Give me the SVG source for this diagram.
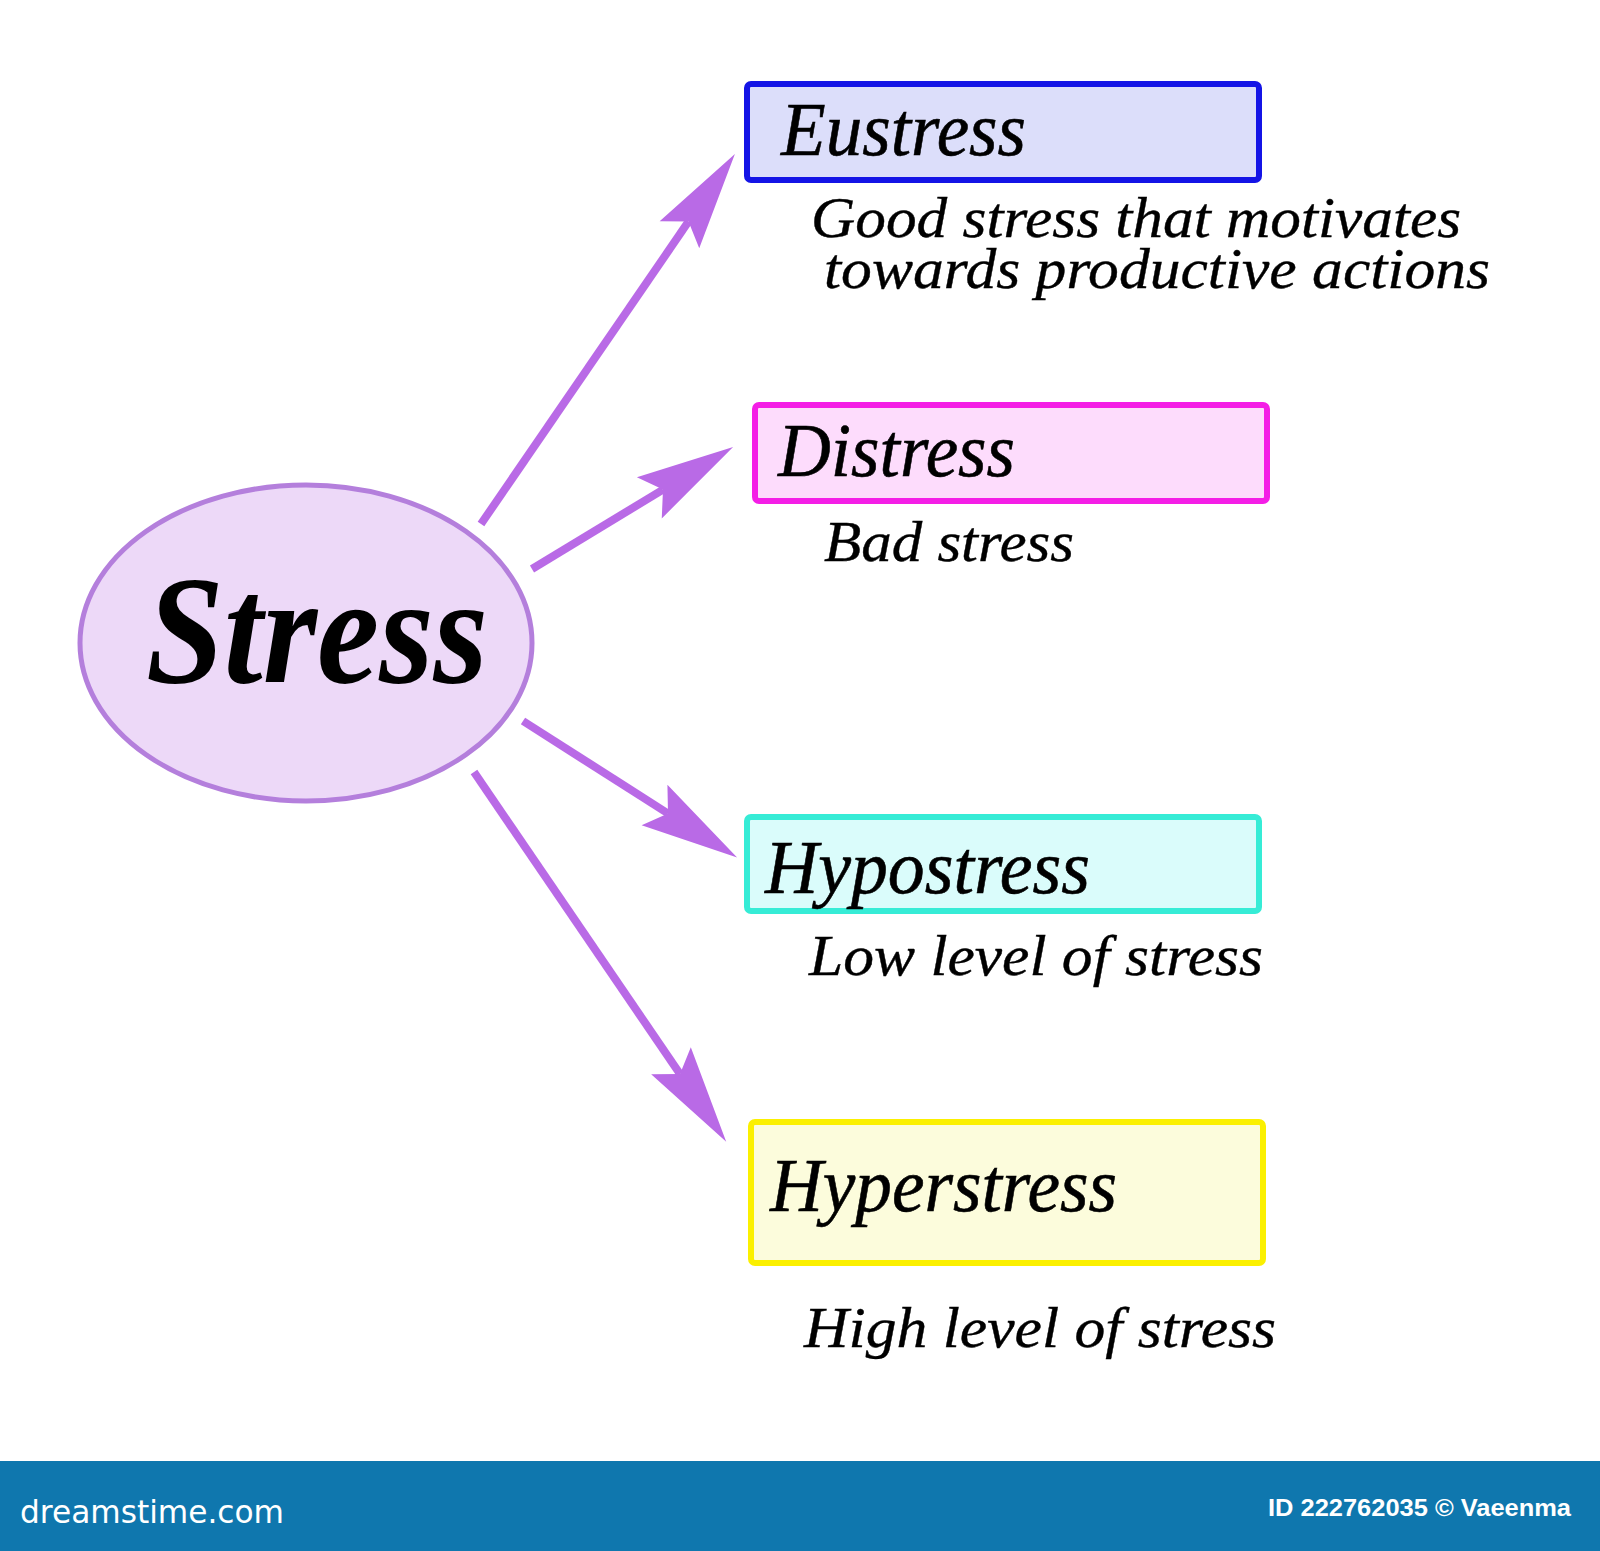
<svg xmlns="http://www.w3.org/2000/svg" width="1600" height="1551" viewBox="0 0 1600 1551">
<style>
.box{stroke-width:6}
.title{font-family:"Liberation Serif","Times New Roman",serif;font-style:italic;font-size:77px;fill:#000;stroke:#000;stroke-width:0.6}
.sub{font-family:"Liberation Serif","Times New Roman",serif;font-style:italic;font-size:58px;fill:#000;stroke:#000;stroke-width:0.4}
.conn{stroke:#b96ae6;stroke-width:8;fill:none;marker-end:url(#head)}
</style>
<defs>
<marker id="head" markerUnits="userSpaceOnUse" markerWidth="120" markerHeight="60" viewBox="-20 -30 120 60" refX="0" refY="0" orient="auto">
<path d="M82,0 L-16,-24 L0,0 L-16,24 Z" fill="#b96ae6"/>
</marker>
</defs>
<rect width="1600" height="1551" fill="#ffffff"/>
<g id="connectors">
<line class="conn" x1="481" y1="524" x2="688.5" y2="221.6"/>
<line class="conn" x1="532" y1="569" x2="663" y2="489.6"/>
<line class="conn" x1="523" y1="721" x2="668" y2="813.5"/>
<line class="conn" x1="474" y1="772" x2="680" y2="1074"/>
</g>
<g id="stress">
<ellipse cx="306" cy="643" rx="226" ry="158" fill="#edd9f8" stroke="#b47fdc" stroke-width="5"/>
<text x="146" y="682" font-family="'Liberation Serif','Times New Roman',serif" font-style="italic" font-weight="bold" font-size="155" textLength="342" lengthAdjust="spacingAndGlyphs">Stress</text>
</g>
<g id="eustress">
<rect class="box" x="747" y="84" width="512" height="96" rx="4" fill="#dcdefa" stroke="#1414e6"/>
<text class="title" x="781" y="155" textLength="245" lengthAdjust="spacingAndGlyphs">Eustress</text>
<text class="sub" x="811" y="237" textLength="650" lengthAdjust="spacingAndGlyphs">Good stress that motivates</text>
<text class="sub" x="824" y="288" textLength="666" lengthAdjust="spacingAndGlyphs">towards productive actions</text>
</g>
<g id="distress">
<rect class="box" x="755" y="405" width="512" height="96" rx="4" fill="#fddcfc" stroke="#f41ee6"/>
<text class="title" x="778" y="476" textLength="237" lengthAdjust="spacingAndGlyphs">Distress</text>
<text class="sub" x="824" y="561" textLength="250" lengthAdjust="spacingAndGlyphs">Bad stress</text>
</g>
<g id="hypostress">
<rect class="box" x="747" y="817" width="512" height="94" rx="4" fill="#dafcfb" stroke="#36ecd6"/>
<text class="title" x="765" y="893" textLength="325" lengthAdjust="spacingAndGlyphs">Hypostress</text>
<text class="sub" x="809" y="975" textLength="454" lengthAdjust="spacingAndGlyphs">Low level of stress</text>
</g>
<g id="hyperstress">
<rect class="box" x="751" y="1122" width="512" height="141" rx="4" fill="#fcfcdc" stroke="#fbf000"/>
<text class="title" x="770" y="1211" textLength="347" lengthAdjust="spacingAndGlyphs">Hyperstress</text>
<text class="sub" x="804" y="1347" textLength="472" lengthAdjust="spacingAndGlyphs">High level of stress</text>
</g>
<g id="footer">
<rect x="0" y="1461" width="1600" height="90" fill="#0f77ae"/>
<text x="20" y="1523" font-family="'DejaVu Sans',sans-serif" font-size="32" fill="#ffffff" textLength="264" lengthAdjust="spacingAndGlyphs">dreamstime.com</text>
<text x="1571" y="1516" text-anchor="end" font-family="'Liberation Sans',Arial,sans-serif" font-weight="bold" font-size="24" fill="#ffffff" textLength="303" lengthAdjust="spacingAndGlyphs">ID 222762035 © Vaeenma</text>
</g>
</svg>
